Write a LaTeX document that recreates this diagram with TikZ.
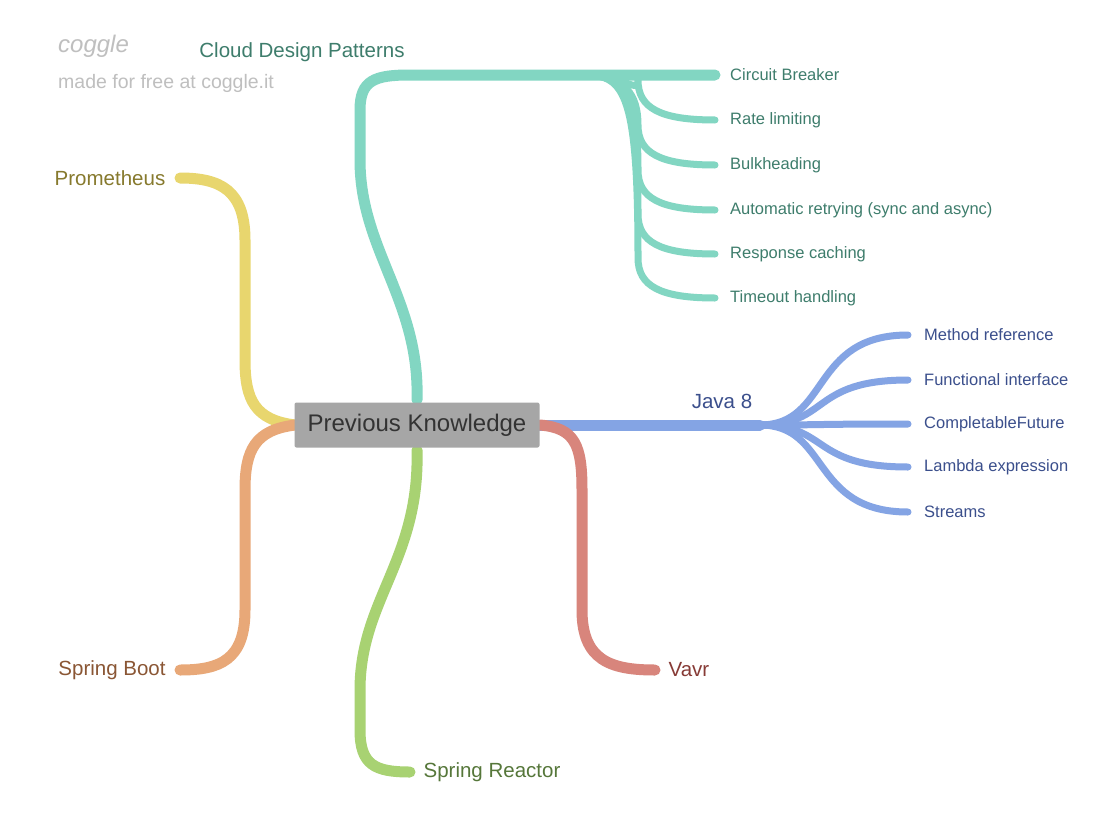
\documentclass[tikz,border=0pt]{standalone}
\usepackage{fontspec}
\setmainfont{Liberation Sans}
\begin{document}
\begin{tikzpicture}[x=1pt,y=-1pt,
  br/.style={line width=11pt,line cap=round},
  ch/.style={line width=7pt,line cap=round},
  lab/.style={font=\fontsize{16.5}{18}\selectfont,anchor=west,inner sep=0pt},
  big/.style={font=\fontsize{20.5}{22}\selectfont,inner sep=0pt}]
\definecolor{teal1}{HTML}{82D6C2}\definecolor{tealT}{HTML}{3E7D6C}
\definecolor{blue1}{HTML}{84A4E4}\definecolor{blueT}{HTML}{3B4F8C}
\definecolor{yel}{HTML}{E8D66E}\definecolor{yelT}{HTML}{877A2E}
\definecolor{ora}{HTML}{E8A878}\definecolor{oraT}{HTML}{8A5634}
\definecolor{grn}{HTML}{A8D272}\definecolor{grnT}{HTML}{56773A}
\definecolor{red1}{HTML}{D8857C}\definecolor{redT}{HTML}{873B36}
\fill[white] (0,0) rectangle (1116,819);
\useasboundingbox (0,0) rectangle (1116,819);
\node[font=\itshape\fontsize{24}{26}\selectfont,text=black!25,anchor=west,inner sep=0pt] (logo) at (58,46) {coggle};
\node[font=\fontsize{19.5}{21}\selectfont,text=black!25,anchor=west,inner sep=0pt] (free) at (58,83) {made for free at coggle.it};
% coordinates
\coordinate (ct) at (417,400); \coordinate (cb) at (417,450);
\coordinate (cl) at (295,425); \coordinate (cr) at (540,425);
\coordinate (cdp) at (410,75); \coordinate (cdpe) at (715,75);
\coordinate (fan) at (585,75);
\coordinate (j8) at (760,425);
% Cloud design patterns
\draw[br,teal1] (ct) .. controls (420,300) and (360,250) .. (360,160) -- (360,110) .. controls (360,80) and (375,75) .. (cdp) -- (cdpe);
\foreach \y in {120,165,210,254,298}{
  \draw[ch,teal1] (fan) .. controls (625,75) and (638,95) .. (638,\y-40) .. controls (638,\y-12) and (660,\y) .. (715,\y);}
\node[big,text=tealT] (cdpl) at (302,52) {Cloud Design Patterns};
\node[lab,text=tealT] (cb1) at (730,75) {Circuit Breaker};
\node[lab,text=tealT] at (730,120) {Rate limiting};
\node[lab,text=tealT] at (730,165) {Bulkheading};
\node[lab,text=tealT] at (730,210) {Automatic retrying (sync and async)};
\node[lab,text=tealT] at (730,254) {Response caching};
\node[lab,text=tealT] at (730,298) {Timeout handling};
% Java 8
\draw[br,blue1] (cr) -- (j8);
\foreach \y in {335,380,424,467,512}{
  \draw[ch,blue1] (j8) .. controls (830,425) and (810,\y) .. (908,\y);}
\node[big,text=blueT] (j8l) at (722,401) {Java 8};
\node[lab,text=blueT] at (924,335) {Method reference};
\node[lab,text=blueT] at (924,380) {Functional interface};
\node[lab,text=blueT] at (924,424) {CompletableFuture};
\node[lab,text=blueT] at (924,467) {Lambda expression};
\node[lab,text=blueT] at (924,512) {Streams};
% Prometheus
\node[big,text=yelT] (pr) at (110,178) {Prometheus};
\draw[br,yel] (cl) .. controls (255,420) and (245,400) .. (245,360) -- (245,240) .. controls (245,190) and (220,178) .. (180,178);
% Spring Boot
\node[big,text=oraT] (sb) at (112,670) {Spring Boot};
\draw[br,ora] (cl) .. controls (255,430) and (245,450) .. (245,490) -- (245,610) .. controls (245,660) and (220,670) .. (180,670);
% Spring Reactor
\node[big,text=grnT] (sr) at (492,772) {Spring Reactor};
\draw[br,grn] (cb) .. controls (420,560) and (360,600) .. (360,690) -- (360,730) .. controls (360,765) and (375,772) .. (410,772);
% Vavr
\node[big,text=redT] (vv) at (689,670) {Vavr};
\draw[br,red1] (cr) .. controls (575,428) and (582,445) .. (582,490) -- (582,610) .. controls (582,660) and (610,670) .. (655,670);
% central node
\node[fill=black!35,minimum width=245pt,minimum height=45pt,font=\fontsize{24}{26}\selectfont,text=black!80,rounded corners=2pt] (pk) at (417,425) {Previous Knowledge};
\end{tikzpicture}
\end{document}
